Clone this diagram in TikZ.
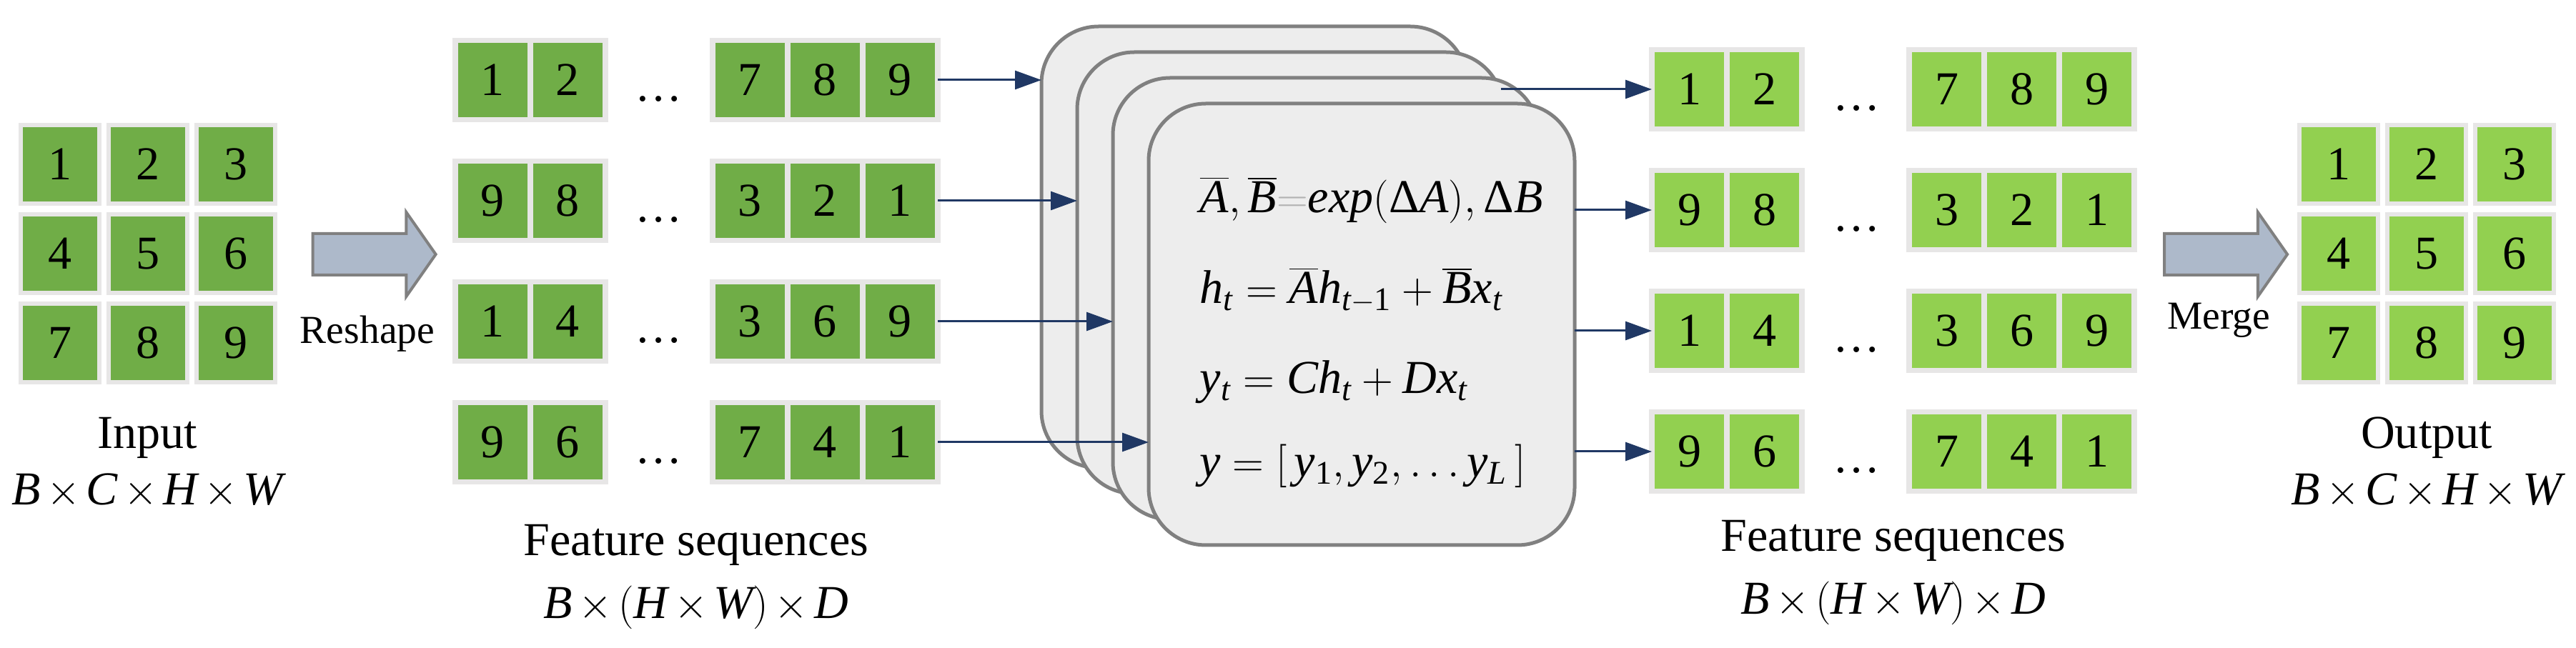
\documentclass[tikz,border=0pt]{standalone}
\usepackage{mathspec}
\setmainfont{Liberation Serif}
\newfontfamily\figfont{Liberation Serif}
\setmathsfont(Digits,Latin,Greek)[Numbers={Lining,Proportional}]{Liberation Serif}
\usetikzlibrary{arrows.meta,positioning,shapes.arrows}

\definecolor{darkgreen}{HTML}{70AD47}
\definecolor{lightgreen}{HTML}{92D050}
\definecolor{cellgrey}{HTML}{E7E6E6}
\definecolor{boxgrey}{HTML}{808080}
\definecolor{boxfill}{HTML}{EDEDED}
\definecolor{navy}{HTML}{203864}
\definecolor{arrowfill}{HTML}{ADB9CA}

\tikzset{
  lbl/.style={font=\figfont\fontsize{18.8}{22}\selectfont, inner sep=0pt, anchor=base},
  dimlbl/.style={lbl, execute at begin node={\medmuskip=2.5mu}},
  gridcell/.style={draw=cellgrey, line width=0.06cm, minimum size=1.10cm, inner sep=0pt, outer sep=0pt, font=\figfont\fontsize{18.8}{22}\selectfont},
  seqcell/.style={draw=cellgrey, line width=0.075cm, minimum width=1.05cm, minimum height=1.11cm, inner sep=0pt, outer sep=0pt, font=\figfont\fontsize{18.8}{22}\selectfont},
  ssmbox/.style={draw=boxgrey, fill=boxfill, line width=0.05cm, rounded corners=0.8cm, minimum width=5.96cm, minimum height=6.18cm, outer sep=0pt},
  seqarrow/.style={draw=navy, line width=0.03cm, -{Triangle[length=0.37cm,width=0.26cm]}},
  fatarrow/.style={single arrow, draw=boxgrey, fill=arrowfill, line width=0.04cm, minimum height=1.72cm, inner sep=0.27cm, single arrow head extend=0.30cm, single arrow tip angle=110},
}

\begin{document}
\begin{tikzpicture}
\useasboundingbox (0,0) rectangle (36.04,9.06);

% input and output grids
\foreach \n [count=\i from 0] in {1,...,9} {
  \pgfmathtruncatemacro\c{mod(\i,3)}
  \pgfmathtruncatemacro\r{div(\i,3)}
  \node[gridcell, fill=darkgreen] (in-\n) at ({0.84+1.23*\c},{6.76-1.25*\r}) {\n};
  \node[gridcell, fill=lightgreen] (out-\n) at ({32.72+1.23*\c},{6.76-1.25*\r}) {\n};
}
\node[lbl] (input) at (2.06,2.78) {Input};
\node[dimlbl] (input-dim) at (2.06,1.99) {$B\times C\times H\times W$};
\node[lbl] (output) at (33.95,2.78) {Output};
\node[dimlbl] (output-dim) at (33.95,1.99) {$B\times C\times H\times W$};

% reshape / merge
\node[fatarrow] (reshape) at (5.135,5.50) {};
\node[lbl, font=\figfont\fontsize{15.8}{18}\selectfont] (reshape-lbl) at (5.14,4.25) {Reshape};
\node[fatarrow] (merge) at (31.04,5.50) {};
\node[lbl, font=\figfont\fontsize{15.8}{18}\selectfont] (merge-lbl) at (31.04,4.45) {Merge};

% stacked ssm blocks
\foreach \k in {1,...,4}
  \node[ssmbox] (box\k) at ({19.05-0.5*(4-\k)},{4.52+0.36*(4-\k)}) {};

\node[lbl, anchor=base west] (eq1) at (16.78,6.08) {$\overline{A},\overline{B}{\color{gray!60}=}exp(\Delta A),\Delta B$};
\node[lbl, anchor=base west] (eq2) at (16.78,4.81) {$h_t=\overline{A}h_{t-1}+\overline{B}x_t$};
\node[lbl, anchor=base west] (eq3) at (16.78,3.55) {$y_t=Ch_t+Dx_t$};
\node[lbl, anchor=base west] (eq4) at (16.78,2.38) {$y=[\,y_1,y_2,\dots y_L\,]$};

% feature sequences in and out
\foreach \k/\a/\b/\c/\d/\e in {1/1/2/7/8/9, 2/9/8/3/2/1, 3/1/4/3/6/9, 4/9/6/7/4/1} {
  \pgfmathsetmacro\yl{7.94-1.69*(\k-1)}
  \pgfmathsetmacro\yr{7.81-1.69*(\k-1)}
  % before the blocks
  \node[seqcell, fill=darkgreen] (sl-\k-1) at (6.895,\yl) {\a};
  \node[seqcell, fill=darkgreen, right=0pt of sl-\k-1] (sl-\k-2) {\b};
  \node[seqcell, fill=darkgreen] (sl-\k-3) at (10.495,\yl) {\c};
  \node[seqcell, fill=darkgreen, right=0pt of sl-\k-3] (sl-\k-4) {\d};
  \node[seqcell, fill=darkgreen, right=0pt of sl-\k-4] (sl-\k-5) {\e};
  \node[lbl] (dl-\k) at (9.22,\yl-0.30) {\dots};
  % after the blocks
  \node[seqcell, fill=lightgreen] (sr-\k-1) at (23.635,\yr) {\a};
  \node[seqcell, fill=lightgreen, right=0pt of sr-\k-1] (sr-\k-2) {\b};
  \node[seqcell, fill=lightgreen] (sr-\k-3) at (27.235,\yr) {\c};
  \node[seqcell, fill=lightgreen, right=0pt of sr-\k-3] (sr-\k-4) {\d};
  \node[seqcell, fill=lightgreen, right=0pt of sr-\k-4] (sr-\k-5) {\e};
  \node[lbl] (dr-\k) at (25.98,\yr-0.30) {\dots};
  \draw[seqarrow] (sl-\k-5.east) -- (sl-\k-5.east -| box\k.west);
}
\draw[seqarrow] (21.0,0 |- sr-1-1.west) -- (sr-1-1.west);
\foreach \k in {2,3,4}
  \draw[seqarrow] (box4.east |- sr-\k-1.west) -- (sr-\k-1.west);

\node[lbl] (seq-in) at (9.74,1.29) {Feature sequences};
\node[dimlbl] (seq-in-dim) at (9.74,0.41) {$B\times(H\times W)\times D$};
\node[lbl] (seq-out) at (26.49,1.34) {Feature sequences};
\node[dimlbl] (seq-out-dim) at (26.49,0.47) {$B\times(H\times W)\times D$};
\end{tikzpicture}
\end{document}
